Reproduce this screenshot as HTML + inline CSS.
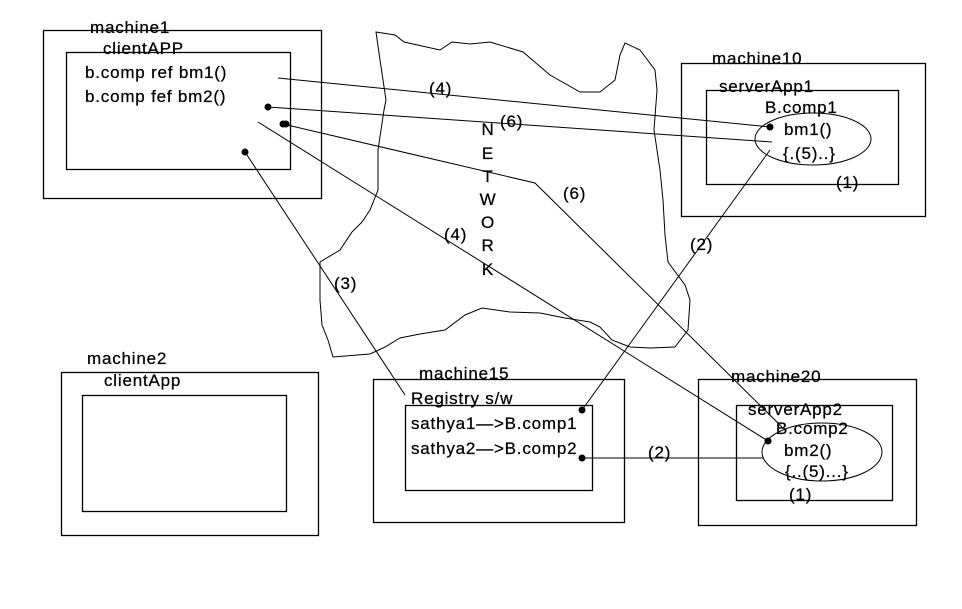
<!DOCTYPE html>
<html><head><meta charset="utf-8"><style>
html,body{margin:0;padding:0;background:#fff;}
svg{display:block;}
text{font-family:"Liberation Sans",sans-serif;font-size:17px;letter-spacing:0.8px;fill:#000;stroke:#000;stroke-width:0.25;}
</style></head><body>
<svg width="962" height="609" viewBox="0 0 962 609" xmlns="http://www.w3.org/2000/svg">
<rect width="962" height="609" fill="#fff"/>
<g fill="none" stroke="#000" stroke-width="1.3">
<rect x="43.5" y="30.5" width="278" height="168"/>
<rect x="66.5" y="52.5" width="224" height="117"/>
<rect x="681.5" y="63.5" width="244" height="153"/>
<rect x="706.5" y="90.5" width="192" height="94"/>
<rect x="61.5" y="372.5" width="257" height="163"/>
<rect x="82.5" y="395.5" width="204" height="116"/>
<rect x="373.5" y="379.5" width="251" height="143"/>
<rect x="405.5" y="405.5" width="187" height="85"/>
<rect x="698.5" y="379.5" width="218" height="146"/>
<rect x="736.5" y="405.5" width="156" height="95"/>
</g>
<g fill="none" stroke="#000" stroke-width="1">
<ellipse cx="813" cy="139" rx="58" ry="26"/>
<ellipse cx="822" cy="452" rx="60" ry="29"/>
<path d="M376,32 L395,35 L404,42 L440,50 L452,42 L470,44 L490,42 L523,52 L550,75 L580,92 L600,92 L615,80 L620,55 L625,43 L640,50 L655,70 L657,90 L654,130 L660,170 L663,200 L665,235 L668,262 L685,285 L690,300 L688,330 L675,347 L650,348 L630,347 L612,340 L600,327 L590,322 L565,318 L540,313 L510,312 L482,308 L465,315 L445,330 L420,334 L400,338 L385,347 L370,354 L333,357 L328,340 L322,325 L320,300 L320,262 L340,250 L352,232 L362,222 L370,210 L378,190 L378,150 L384,110 L386,100 L380,60 Z"/>
</g>
<g stroke="#000" stroke-width="1" fill="none">
<line x1="278" y1="78" x2="770" y2="127"/>
<line x1="268" y1="107" x2="772" y2="142"/>
<polyline points="283,124 535,183 782,427"/>
<line x1="258" y1="122" x2="768" y2="441"/>
<line x1="245" y1="152" x2="405" y2="395"/>
<line x1="582" y1="410" x2="770" y2="150"/>
<line x1="582" y1="458" x2="764" y2="458"/>
</g>
<g fill="#000">
<circle cx="268" cy="107" r="3.5"/>
<circle cx="283" cy="124" r="3.5"/>
<circle cx="286" cy="124" r="3.5"/>
<circle cx="245" cy="152" r="3.5"/>
<circle cx="770" cy="127" r="3.5"/>
<circle cx="582" cy="410" r="3.5"/>
<circle cx="582" cy="458" r="3.5"/>
<circle cx="768" cy="441" r="3.5"/>
</g>
<text x="90" y="33">machine1</text>
<text x="103" y="54">clientAPP</text>
<text x="85" y="78">b.comp ref bm1()</text>
<text x="85" y="102">b.comp fef bm2()</text>
<text x="712" y="64">machine10</text>
<text x="719" y="92">serverApp1</text>
<text x="765" y="113">B.comp1</text>
<text x="784" y="135">bm1()</text>
<text x="783" y="159">{.(5)..}</text>
<text x="836" y="188">(1)</text>
<text x="87" y="364">machine2</text>
<text x="104" y="386">clientApp</text>
<text x="419" y="379">machine15</text>
<text x="411" y="404">Registry s/w</text>
<text x="411" y="429">sathya1—&gt;B.comp1</text>
<text x="411" y="454">sathya2—&gt;B.comp2</text>
<text x="731" y="382">machine20</text>
<text x="748" y="415">serverApp2</text>
<text x="776" y="434">B.comp2</text>
<text x="784" y="456">bm2()</text>
<text x="785" y="477">{..(5)...}</text>
<text x="789" y="500">(1)</text>
<text x="429" y="94">(4)</text>
<text x="500" y="127">(6)</text>
<text x="563" y="199">(6)</text>
<text x="444" y="240">(4)</text>
<text x="334" y="289">(3)</text>
<text x="690" y="250">(2)</text>
<text x="648" y="458">(2)</text>
<g text-anchor="middle">
<text x="488" y="135">N</text>
<text x="488" y="159">E</text>
<text x="488" y="182">T</text>
<text x="488" y="205">W</text>
<text x="488" y="228">O</text>
<text x="488" y="251">R</text>
<text x="488" y="275">K</text>
</g>
</svg>
</body></html>
